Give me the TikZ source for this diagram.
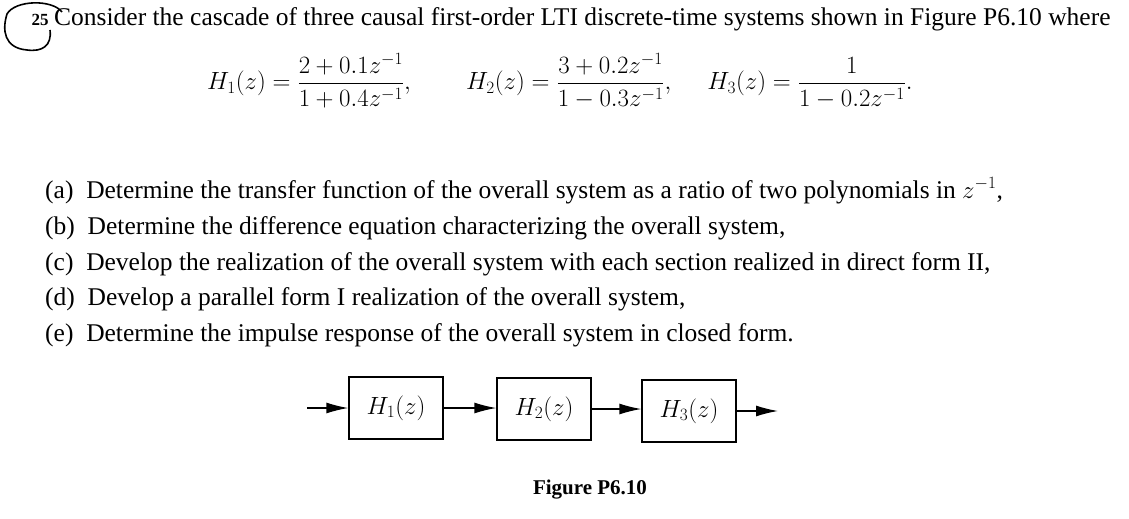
\documentclass[tikz,border=0pt]{standalone}
\usepackage{fontspec}
\setmainfont{Liberation Serif}
\usepackage{amsmath}
\usetikzlibrary{arrows.meta}
\begin{document}
\begin{tikzpicture}[x=1pt,y=-1pt,
  txt/.style={anchor=base west,inner sep=0pt,font=\fontsize{25.5}{30}\selectfont},
  blk/.style={draw,line width=1.3pt,minimum width=94pt,minimum height=62pt,font=\fontsize{24}{28}\selectfont},
  sig/.style={line width=1.3pt,-{Latex[length=22pt,width=11pt]}}]
\useasboundingbox (0,0) rectangle (1129,519);
\draw[line width=1.6pt] (62,12) .. controls (52,-1) and (15,0) .. (7,14) .. controls (2,30) and (4,48) .. (27,50) .. controls (42,52) and (52,46) .. (50,30);
\node[txt,anchor=base] (n) at (40,26) {\textbf{\fontsize{17}{18}\selectfont 25}};
\node[txt] (c) at (54,26) {Consider the cascade of three causal first-order LTI discrete-time systems shown in Figure P6.10 where};
\node[txt,anchor=west] (eq) at (207,81) {$\displaystyle H_1(z)=\frac{2+0.1z^{-1}}{1+0.4z^{-1}},\qquad H_2(z)=\frac{3+0.2z^{-1}}{1-0.3z^{-1}},\quad\ H_3(z)=\frac{1}{1-0.2z^{-1}}.$};
\node[txt] (a) at (45,198) {(a)\ \ Determine the transfer function of the overall system as a ratio of two polynomials in $z^{-1}$,};
\node[txt] (b) at (45,234) {(b)\ \ Determine the difference equation characterizing the overall system,};
\node[txt] (cc) at (45,270) {(c)\ \ Develop the realization of the overall system with each section realized in direct form II,};
\node[txt] (d) at (45,305) {(d)\ \ Develop a parallel form I realization of the overall system,};
\node[txt] (e) at (45,341) {(e)\ \ Determine the impulse response of the overall system in closed form.};
\node[blk] (h1) at (396,408) {$H_1(z)$};
\node[blk] (h2) at (544,409) {$H_2(z)$};
\node[blk] (h3) at (689,411) {$H_3(z)$};
\coordinate (in) at (307,408);
\coordinate (out) at (778,411);
\draw[sig] (in) -- (h1.west);
\draw[sig] (h1.east) -- (h2.west |- h1.east);
\draw[sig] (h2.east) -- (h3.west |- h2.east);
\draw[sig] (h3.east) -- (out);
\node[inner sep=0pt,font=\fontsize{21}{24}\selectfont\bfseries] (fig) at (590,490) {Figure P6.10};
\end{tikzpicture}
\end{document}
